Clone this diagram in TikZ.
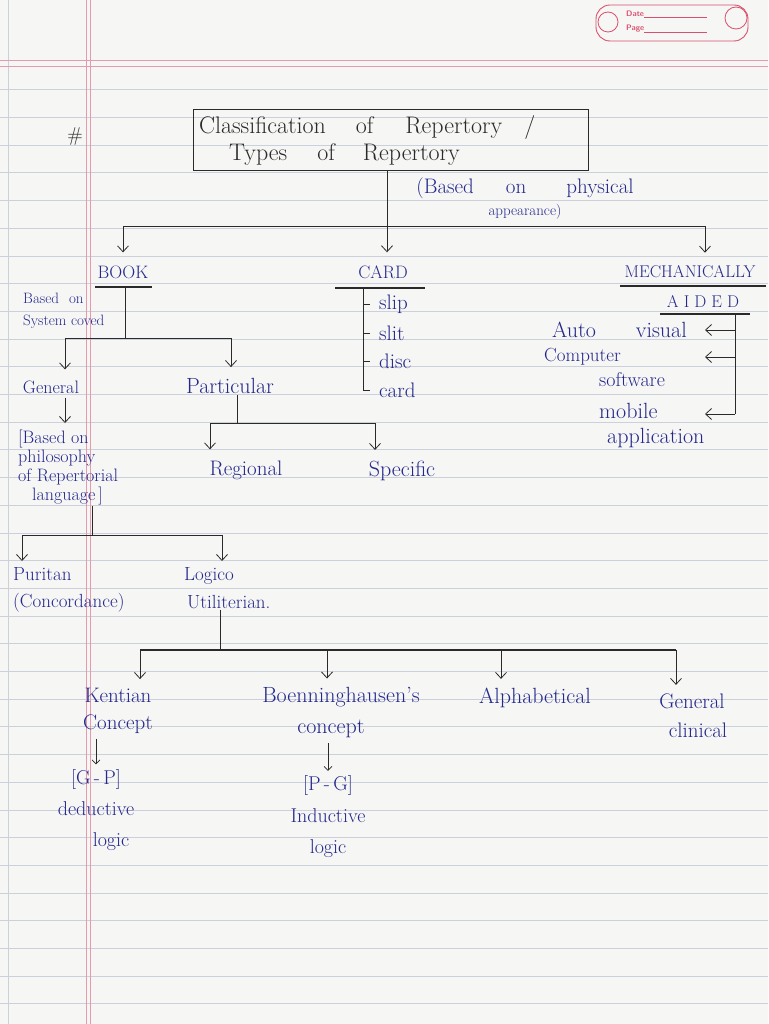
\documentclass[tikz,border=0pt]{standalone}
\usetikzlibrary{arrows.meta,calc}
\definecolor{ink}{HTML}{24288C}
\definecolor{pen}{HTML}{2A2A2A}
\definecolor{rulec}{HTML}{CCD0DA}
\definecolor{redm}{HTML}{E59AAE}
\definecolor{stamp}{HTML}{D9506F}
\definecolor{paper}{HTML}{F6F6F4}
\begin{document}
\begin{tikzpicture}[x=1pt,y=-1pt,
  lbl/.style={text=ink,font=\fontsize{20}{27}\selectfont,inner sep=1pt},
  sm/.style={text=ink,font=\fontsize{15}{20}\selectfont,inner sep=1pt,align=left},
  caps/.style={text=ink,font=\fontsize{17}{20}\selectfont,inner sep=1pt},
  wire/.style={pen,line width=0.9pt},
  uline/.style={pen,line width=1.1pt},
  arr/.style={pen,line width=0.8pt,-{Straight Barb[length=6pt,width=11pt]}},
  sarr/.style={pen,line width=0.7pt,-{Straight Barb[length=4pt,width=8pt]}}]
% paper
\fill[paper] (0,0) rectangle (768,1024);
\useasboundingbox (0,0) rectangle (768,1024);
\foreach \k in {1,...,34} \draw[rulec,line width=0.6pt] (0,{61.9+27.7*\k}) -- (768,{61.9+27.7*\k});
\draw[rulec,line width=0.6pt] (8,0) -- (8,1024);
\draw[redm,line width=0.9pt] (0,60) -- (768,60);
\draw[redm,line width=0.7pt] (0,66) -- (768,66);
\draw[redm,line width=0.7pt] (86,0) -- (86,1024);
\draw[redm,line width=0.7pt] (90,0) -- (90,1024);
% stamp
\draw[stamp,line width=0.9pt,rounded corners=14pt] (596,5) rectangle (748,41);
\draw[stamp,line width=0.8pt] (608,22) circle (10);
\draw[stamp,line width=0.8pt] (736,18) circle (11);
\node[text=stamp,font=\fontsize{8}{9}\selectfont\sffamily\bfseries,anchor=west,inner sep=0pt] (date) at (626,14) {Date};
\node[text=stamp,font=\fontsize{8}{9}\selectfont\sffamily\bfseries,anchor=west,inner sep=0pt] (page) at (626,29) {Page};
\draw[stamp,line width=0.7pt] (date.south east) -- ++(63,0);
\draw[stamp,line width=0.7pt] (page.south east) -- ++(63,0);
% title
\node[text=pen,font=\fontsize{20}{24}\selectfont] (hash) at (75,137) {\#};
\node[draw=pen,line width=1pt,text=pen,font=\fontsize{24}{27}\selectfont,align=left,text width=383pt,inner sep=6pt,minimum height=60pt] (title) at (390.5,140)
 {Classification\hspace{30pt}of\hspace{32pt}Repertory\hspace{22pt}/\\\hspace*{30pt}Types\hspace{30pt}of\hspace{28pt}Repertory};
\node[text=ink,align=center,font=\fontsize{21}{22}\selectfont,inner sep=1pt] (phys) at (525,199)
 {(Based\hspace{32pt}on\hspace{40pt}physical\\{\fontsize{15}{16}\selectfont appearance)}};
\coordinate (j0) at (387,226);
\coordinate (j0L) at (123,226);
\coordinate (j0R) at (705,226);
\draw[wire] (title.south -| j0) -- (j0);
\draw[wire] (j0L) -- (j0R);
% level 1
\node[caps,font=\fontsize{18}{20}\selectfont] (book) at (123,272) {BOOK};
\node[caps,font=\fontsize{18}{20}\selectfont] (card) at (383,272) {CARD};
\node[caps] (mech) at (690,272) {MECHANICALLY};
\node[caps] (aided) at (703,301) {A\hspace{5pt}I\hspace{5pt}D\hspace{5pt}E\hspace{5pt}D};
\draw[arr,shorten >=12pt] (j0L) -- (j0L |- book.north);
\draw[arr,shorten >=12pt] (j0) -- (j0 |- card.north);
\draw[arr,shorten >=12pt] (j0R) -- (j0R |- mech.north);
\draw[uline] (95,287) -- (152,287);
\draw[uline] (335,288) -- (425,288);
\draw[uline] (620,286) -- (766,286);
\draw[uline] (660,314) -- (750,314);
% BOOK branch
\node[sm,anchor=west,font=\fontsize{15}{22}\selectfont] (bos) at (22,311) {Based\hspace{10pt}on\\System coved};
\coordinate (bk) at (125,338);
\coordinate (bkL) at (65,338);
\coordinate (bkR) at (231,338);
\draw[wire] (125,287) -- (bk);
\draw[wire] (bkL) -- (bkR);
\node[lbl,font=\fontsize{18}{22}\selectfont] (gen) at (51,387) {General};
\node[lbl,font=\fontsize{22}{26}\selectfont] (part) at (230,386) {Particular};
\draw[arr,shorten >=10pt] (bkL) -- (bkL |- gen.north);
\draw[arr,shorten >=10pt] (bkR) -- (bkR |- part.north);
% General branch
\node[sm,anchor=north west,font=\fontsize{18}{19}\selectfont] (phil) at (17,429) {[Based on\\philosophy\\of Repertorial\\\hspace*{14pt}language\,]};
\draw[arr,shorten <=3pt,shorten >=6pt] (gen.south -| bkL) -- (phil.north -| bkL);
\coordinate (phj) at (92,535);
\coordinate (phL) at (22,535);
\coordinate (phR) at (222,535);
\draw[wire] (phil.south -| phj) -- (phj);
\draw[wire] (phL) -- (phR);
\node[lbl,anchor=north west,align=left,font=\fontsize{19}{27}\selectfont] (pur) at (12,566) {Puritan\\(Concordance)};
\node[lbl,anchor=north west,align=left,font=\fontsize{19}{28}\selectfont] (log) at (183,566) {Logico\\\hspace*{3pt}Utiliterian.};
\draw[arr,shorten >=5pt] (phL) -- (phL |- pur.north);
\draw[arr,shorten >=5pt] (phR) -- (phR |- log.north);
% Particular branch
\coordinate (ptj) at (237,423);
\coordinate (ptL) at (210,423);
\coordinate (ptR) at (375,423);
\draw[wire] (part.south -| ptj) -- (ptj);
\draw[wire] (ptL) -- (ptR);
\node[lbl,font=\fontsize{21}{26}\selectfont] (reg) at (246,470) {Regional};
\node[lbl,font=\fontsize{22}{26}\selectfont] (spec) at (402,471) {Specific};
\draw[arr,shorten >=10pt] (ptL) -- (ptL |- reg.north);
\draw[arr,shorten >=10pt] (ptR) -- (ptR |- spec.north);
% Logico branch
\coordinate (lgj) at (220,650);
\coordinate (lg1) at (140,650);
\coordinate (lg2) at (327,650);
\coordinate (lg3) at (501,650);
\coordinate (lg4) at (676,650);
\draw[wire] (log.south -| lgj) -- (lgj);
\draw[pen,line width=1.3pt] (lg1) -- (lg4);
\node[lbl,align=center,font=\fontsize{21}{27}\selectfont] (kent) at (118,711) {Kentian\\Concept};
\node[lbl,align=center,font=\fontsize{22}{31}\selectfont] (boen) at (341,713) {Boenninghausen's\\\hspace*{-20pt}concept};
\node[lbl,font=\fontsize{22}{26}\selectfont] (alph) at (535,698) {Alphabetical};
\node[lbl,align=center,font=\fontsize{21}{29}\selectfont] (gc) at (692,716) {General\\\hspace*{12pt}clinical};
\draw[arr,shorten >=8pt] (lg1) -- (lg1 |- kent.north);
\draw[arr,shorten >=8pt] (lg2) -- (lg2 |- boen.north);
\draw[arr,shorten >=8pt] (lg3) -- (lg3 |- alph.north);
\draw[arr,shorten >=8pt] (lg4) -- (lg4 |- gc.north);
\node[lbl,align=center,font=\fontsize{20}{31}\selectfont] (kgp) at (96,810) {[G\,-\,P]\\deductive\\\hspace*{30pt}logic};
\node[lbl,align=center,font=\fontsize{20}{31.5}\selectfont] (bgp) at (328,817) {[P\,-\,G]\\Inductive\\logic};
\draw[sarr,shorten <=4pt,shorten >=4pt] (kent.south -| kgp.north) -- (kgp.north);
\draw[sarr,shorten <=4pt,shorten >=4pt] (boen.south -| bgp.north) -- (bgp.north);
% CARD branch
\coordinate (ct) at (363,289);
\node[lbl,anchor=west,font=\fontsize{21}{26}\selectfont] (c1) at (378,304) {slip};
\node[lbl,anchor=west,font=\fontsize{21}{26}\selectfont] (c2) at (378,333) {slit};
\node[lbl,anchor=west,font=\fontsize{21}{26}\selectfont] (c3) at (378,361) {disc};
\node[lbl,anchor=west,font=\fontsize{21}{26}\selectfont] (c4) at (378,390) {card};
\draw[wire,shorten >=8pt] (ct) |- (c4.west);
\draw[wire,shorten >=8pt] (ct |- c1.west) -- (c1.west);
\draw[wire,shorten >=8pt] (ct |- c2.west) -- (c2.west);
\draw[wire,shorten >=8pt] (ct |- c3.west) -- (c3.west);
% MECHANICALLY AIDED branch
\coordinate (mt) at (735,315);
\coordinate (mb) at (735,414);
\coordinate (mtip) at (705,0);
\draw[wire] (mt) -- (mb);
\node[lbl,anchor=east,font=\fontsize{22}{26}\selectfont] (auto) at (688,330) {Auto\hspace{40pt}visual};
\node[lbl,anchor=west,font=\fontsize{19}{22}\selectfont] (comp) at (543,357) {Computer};
\node[lbl,anchor=west,font=\fontsize{20}{22}\selectfont] (soft) at (598,380) {software};
\node[lbl,anchor=north west,align=left,font=\fontsize{22}{25}\selectfont] (mob) at (598,402) {mobile\\\hspace*{8pt}application};
\draw[arr] (mt |- auto.east) -- (mtip |- auto.east);
\draw[arr] (mt |- comp.east) -- (mtip |- comp.east);
\draw[arr] (mb) -- (mtip |- mb);
\end{tikzpicture}
\end{document}
